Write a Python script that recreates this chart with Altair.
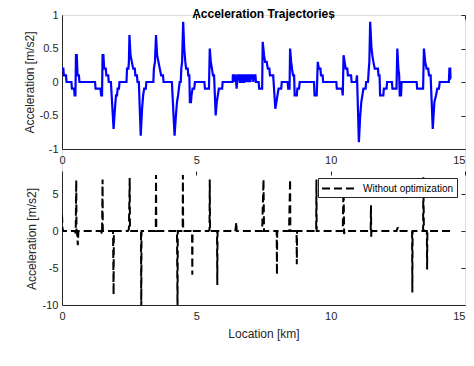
import altair as alt
import pandas as pd

# ---------------- data ----------------
TOP_KM = [0.00, 0.05, 0.07, 0.15, 0.17, 0.35, 0.37, 0.45, 0.47, 0.50, 0.52, 0.55, 0.58, 0.63, 0.65,
          1.23, 1.25, 1.43, 1.46, 1.49, 1.51, 1.54, 1.57, 1.63, 1.65, 1.72, 1.74, 1.82, 1.92, 1.97, 2.01, 2.05, 2.07, 2.12, 2.14,
          2.40, 2.42, 2.47, 2.49, 2.51, 2.55, 2.60, 2.65, 2.71, 2.73, 2.79, 2.81, 2.86, 2.93, 2.98, 3.02, 3.06, 3.12, 3.14,
          3.40, 3.42, 3.46, 3.50, 3.54, 3.59, 3.64, 3.69, 3.76, 3.78,
          4.09, 4.19, 4.24, 4.28, 4.32, 4.35, 4.38, 4.42, 4.44, 4.47, 4.51, 4.55, 4.59, 4.62, 4.68, 4.70, 4.74, 4.76, 4.80, 4.82, 4.86, 4.92, 4.95,
          5.30, 5.32, 5.47, 5.50, 5.54, 5.58, 5.62, 5.66, 5.72, 5.76, 5.80, 5.84, 5.96, 5.98,
          6.35, 6.36, 6.39, 6.40, 6.42, 6.46, 6.48, 6.50, 6.52, 6.55, 6.60, 6.62, 6.66, 6.68, 6.72, 6.73, 6.78, 6.80, 6.84, 6.85,
          6.88, 6.92, 6.93, 6.96, 7.00, 7.01, 7.04, 7.10, 7.12, 7.15, 7.20, 7.22,
          7.32, 7.34, 7.45, 7.47, 7.52, 7.56, 7.62, 7.66, 7.72, 7.74, 7.86, 7.94, 7.98, 8.02, 8.06, 8.16, 8.18,
          8.40, 8.42, 8.47, 8.49, 8.53, 8.56, 8.60, 8.64, 8.66, 8.74, 8.76, 8.82, 8.85,
          9.38, 9.40, 9.48, 9.52, 9.56, 9.62, 9.64, 9.70, 9.72,
          10.21, 10.23, 10.42, 10.45, 10.48, 10.52, 10.56, 10.62, 10.64, 10.76, 10.78, 10.95, 10.98, 11.05, 11.10, 11.14, 11.18, 11.22, 11.30, 11.32, 11.39, 11.42, 11.44,
          11.47, 11.52, 11.55, 11.59, 11.64, 11.76, 11.78, 11.82, 11.84, 11.96, 11.98, 12.08, 12.10, 12.28, 12.30, 12.45,
          12.48, 12.52, 12.55, 12.57, 12.62, 12.64, 13.20, 13.22, 13.44, 13.47, 13.52, 13.57, 13.63, 13.66, 13.72, 13.80, 13.86, 13.92, 13.97, 14.03, 14.06,
          14.40, 14.42, 14.45, 14.46, 14.48]
TOP_ACC = [0.2, 0.2, 0.1, 0.1, 0.0, 0.0, -0.1, -0.1, -0.2, -0.2, 0.4, 0.4, 0.1, 0.1, 0.0,
           0.0, -0.1, -0.1, -0.2, -0.2, 0.4, 0.4, 0.2, 0.2, 0.1, 0.1, 0.0, 0.0, -0.7, -0.4, -0.2, -0.2, -0.1, -0.1, 0.0,
           0.0, 0.2, 0.2, 0.3, 0.7, 0.4, 0.3, 0.2, 0.2, 0.1, 0.1, 0.0, 0.0, -0.8, -0.4, -0.2, -0.1, -0.1, 0.0,
           0.0, 0.2, 0.3, 0.7, 0.4, 0.3, 0.2, 0.1, 0.1, 0.0,
           0.0, -0.8, -0.5, -0.3, -0.2, -0.1, 0.0, 0.0, 0.2, 0.3, 0.9, 0.5, 0.3, 0.2, 0.2, 0.1, 0.1, -0.3, -0.3, -0.2, -0.1, -0.1, 0.0,
           0.0, -0.1, -0.1, 0.5, 0.3, 0.2, 0.1, 0.1, -0.5, -0.3, -0.2, -0.1, -0.1, 0.0,
           0.0, 0.1, 0.1, 0.0, 0.1, 0.1, 0.0, -0.1, 0.0, 0.1, 0.1, 0.0, 0.0, 0.1, 0.1, 0.0, 0.0, 0.1, 0.1, 0.0,
           0.1, 0.1, 0.0, 0.1, 0.1, 0.0, 0.1, 0.1, 0.0, 0.1, 0.1, 0.0,
           0.0, -0.1, -0.1, 0.6, 0.4, 0.3, 0.3, 0.2, 0.2, 0.1, 0.1, -0.4, -0.3, -0.2, -0.1, -0.1, 0.0,
           0.0, -0.1, -0.1, 0.5, 0.3, 0.2, 0.1, 0.1, -0.2, -0.2, -0.1, -0.1, 0.0,
           0.0, -0.2, -0.2, 0.3, 0.2, 0.2, 0.1, 0.1, 0.0,
           0.0, -0.1, -0.1, -0.2, 0.4, 0.3, 0.2, 0.2, 0.1, 0.1, 0.0, 0.0, 0.1, -0.9, -0.5, -0.3, -0.2, -0.1, -0.1, 0.0, 0.0, 0.2, 0.3,
           0.9, 0.5, 0.4, 0.3, 0.2, 0.2, 0.1, 0.1, -0.2, -0.2, -0.1, -0.1, 0.0, 0.0, -0.1, -0.1,
           0.5, 0.2, 0.1, -0.2, -0.2, 0.0, 0.0, -0.1, -0.1, 0.5, 0.3, 0.2, 0.2, 0.1, 0.1, -0.7, -0.3, -0.2, -0.1, -0.1, 0.0,
           0.0, 0.2, 0.2, 0.05, 0.05]

BOT_KM = [0.00, 0.02, 0.05, 0.48, 0.51, 0.53, 0.54, 0.56, 0.59, 0.61,
          1.45, 1.49, 1.51, 1.52, 1.90, 1.92, 1.93,
          2.45, 2.49, 2.52, 2.53, 2.57, 2.94, 2.95, 2.96,
          3.49, 3.50, 3.51, 4.28, 4.30, 4.31, 4.45, 4.49, 4.50, 4.51, 4.84, 4.85, 4.86,
          5.45, 5.49, 5.50, 5.51, 5.77, 5.78, 5.79, 6.45, 6.49, 6.50,
          7.45, 7.50, 7.52, 7.99, 8.00, 8.01, 8.45, 8.49, 8.50, 8.73, 8.74, 8.75,
          9.46, 9.47, 9.48, 10.45, 10.48, 10.50, 10.52, 11.49, 11.50, 11.51, 11.52,
          12.45, 12.50, 12.52, 13.03, 13.04, 13.05, 13.44, 13.45, 13.47, 13.58, 13.59, 13.60, 14.47]
BOT_ACC = [2.2, 0.3, 0.0, 0.0, -0.3, 6.9, 0.0, -0.3, -1.9, 0.0,
           0.0, -0.4, 7.0, 0.0, 0.0, -8.6, 0.0,
           0.0, 0.3, 7.2, 0.3, 0.0, 0.0, -11.0, 0.0,
           0.0, 7.6, 0.0, 0.0, -11.0, 0.0, 0.0, 0.2, 7.6, 0.0, 0.0, -5.9, 0.0,
           0.0, 0.2, 7.0, 0.0, 0.0, -7.3, 0.0, 0.0, 1.2, 0.0,
           0.0, 7.0, 0.0, 0.0, -5.9, 0.0, 0.0, 7.0, 0.0, 0.0, -4.5, 0.0,
           0.0, 7.0, 0.0, 0.0, 7.0, -0.4, 0.0, 0.0, 3.5, -0.8, 0.0,
           0.0, 0.5, 0.0, 0.0, -8.3, 0.0, 0.0, 7.3, 0.0, 0.0, -5.2, 0.0, 0.0]

X_TICKS = [0, 5, 10, 15]
TOP_Y_TICKS = [-1, -0.5, 0, 0.5, 1]
BOT_Y_TICKS = [-10, -5, 0, 5]
TOP_DOMAIN = [-1, 1]
BOT_DOMAIN = [-10, 8]
X_DOMAIN = [0, 15]
TITLE = "Acceleration Trajectories"
Y_TITLE = "Acceleration [m/s2]"
X_TITLE = "Location [km]"
SERIES = "Without optimization"

top_df = pd.DataFrame({"km": TOP_KM, "acc": TOP_ACC, "i": list(range(len(TOP_KM)))})
bot_df = pd.DataFrame({"km": BOT_KM, "acc": BOT_ACC, "i": list(range(len(BOT_KM))),
                       "series": [SERIES] * len(BOT_KM)})

# ---------------- layout ----------------
W, H = 403, 290
TOP_RANGE = [134, 0]
BOT_RANGE = [290, 157]
GAP = TOP_RANGE[0] - H          # offset to lift top panel's x axis
AX = "#262626"
FONT = "Liberation Sans"
LAST_ALIGN = alt.ExprRef("datum.value >= 15 ? 'right' : 'center'")


def x_main(offset, title=None):
    kw = dict(values=X_TICKS, offset=offset, ticks=False, tickSize=0, labelPadding=14,
              labelBaseline="alphabetic", labelFlush=False, labelOverlap=False,
              labelAlign=LAST_ALIGN,
              grid=False, domainColor=AX, labelColor=AX, labelFontSize=11, labelFont=FONT)
    if title:
        kw.update(title=title, titleY=32, titleBaseline="alphabetic", titleFontWeight="normal",
                  titleFontSize=12, titleColor=AX, titleFont=FONT)
    else:
        kw.update(title=None)
    return alt.Axis(**kw)


def x_ticks(offset):
    return alt.Axis(values=X_TICKS, offset=offset - 4, tickSize=4, domain=False, labels=False,
                    grid=False, title=None, tickColor=AX)


def y_main(values, title_x):
    return alt.Axis(values=values, ticks=False, tickSize=0, labelPadding=4, labelFlush=False,
                    labelOverlap=False, labelExpr="toString(datum.value)", grid=False,
                    domainColor=AX, labelColor=AX, labelFontSize=11, labelFont=FONT,
                    title=Y_TITLE, titleX=title_x, titleFontWeight="normal", titleFontSize=12,
                    titleColor=AX, titleFont=FONT)


def y_ticks(values):
    return alt.Axis(values=values, offset=-4, tickSize=4, domain=False, labels=False,
                    grid=False, title=None, tickColor=AX)


top_x = alt.Scale(domain=X_DOMAIN, nice=False, zero=False)
top_y = alt.Scale(domain=TOP_DOMAIN, range=TOP_RANGE, nice=False, zero=False)
bot_x = alt.Scale(domain=X_DOMAIN, nice=False, zero=False)
bot_y = alt.Scale(domain=BOT_DOMAIN, range=BOT_RANGE, nice=False, zero=False)

topA = alt.Chart(top_df).mark_line(color="#0000ff", strokeWidth=2.2, clip=True).encode(
    x=alt.X("km:Q", scale=top_x, axis=x_main(GAP)),
    y=alt.Y("acc:Q", scale=top_y, axis=y_main(TOP_Y_TICKS, -26)),
    order=alt.Order("i:Q"),
)
topB = alt.Chart(top_df).mark_line(opacity=0).encode(
    x=alt.X("km:Q", scale=top_x, axis=x_ticks(GAP)),
    y=alt.Y("acc:Q", scale=top_y, axis=y_ticks(TOP_Y_TICKS)),
    order=alt.Order("i:Q"),
)
top = alt.layer(topA, topB).resolve_axis(x="independent", y="independent")

legend = alt.Legend(orient="none", legendX=256, legendY=163, title=None, fillColor="white",
                    strokeColor=AX, padding=3, symbolType="M-1,0H4.5", symbolSize=169,
                    symbolStrokeWidth=2, symbolDash=[8, 4], symbolStrokeColor="black",
                    labelFontSize=10, labelOffset=27, labelFont=FONT, labelColor="black",
                    zindex=1)

botA = alt.Chart(bot_df).mark_line(strokeWidth=2, strokeDash=[8, 4], clip=True).encode(
    x=alt.X("km:Q", scale=bot_x, axis=x_main(0, X_TITLE)),
    y=alt.Y("acc:Q", scale=bot_y, axis=y_main(BOT_Y_TICKS, -23.5)),
    color=alt.Color("series:N", scale=alt.Scale(range=["black"]), legend=legend),
    order=alt.Order("i:Q"),
)
botB = alt.Chart(bot_df).mark_line(opacity=0).encode(
    x=alt.X("km:Q", scale=bot_x, axis=x_ticks(0)),
    y=alt.Y("acc:Q", scale=bot_y, axis=y_ticks(BOT_Y_TICKS)),
    order=alt.Order("i:Q"),
)
bot = alt.layer(botA, botB).resolve_axis(x="independent", y="independent")

chart = alt.layer(top, bot).resolve_scale(x="independent", y="independent").properties(
    width=W, height=H,
    padding={"left": 54, "top": 7, "right": 1, "bottom": 40},
    autosize=alt.AutoSizeParams(type="none"),
    title=alt.TitleParams(TITLE, fontSize=12, fontWeight="bold", font=FONT, anchor="middle",
                          frame="group", offset=0, baseline="alphabetic", dy=21, color="black"),
).configure_view(stroke=None).configure(font=FONT)

chart.save("out.html", embed_options={"renderer": "svg", "actions": False})
